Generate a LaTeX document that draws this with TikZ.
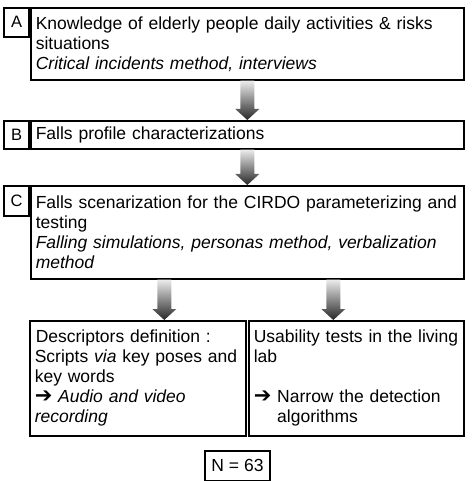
\documentclass[tikz,border=0pt]{standalone}
\usepackage{fontspec}
\setmainfont{Liberation Sans}
\newfontfamily\symfont{DejaVu Sans}
\usetikzlibrary{calc}

\tikzset{
  box/.style={draw, line width=1.6bp, anchor=north west, align=left, inner xsep=5bp, inner ysep=0bp,
    font=\fontsize{17.5bp}{20bp}\selectfont},
  tag/.style={draw, line width=1.6bp, anchor=north east, minimum width=25bp, minimum height=29bp,
    inner sep=0pt, font=\fontsize{16.5bp}{18bp}\selectfont},
}

% shaded block arrow from one point down to another
\newcommand{\flowarrow}[2]{%
  \shade[top color=gray!15, bottom color=black!85]
    let \p1=(#1), \p2=(#2) in
    (\x1-7bp,\y1) -- (\x1+7bp,\y1) -- (\x1+7bp,\y2+11bp) -- (\x1+12bp,\y2+11bp)
    -- (\x1,\y2) -- (\x1-12bp,\y2+11bp) -- (\x1-7bp,\y2+11bp) -- cycle;}
\newcommand{\pointer}{{\symfont\fontsize{21bp}{20bp}\selectfont ➔}}

\begin{document}
\begin{tikzpicture}[x=1bp,y=-1bp]
\useasboundingbox (0,0) rectangle (474,481);

\node[box, text width=423bp, minimum height=72bp] (knowledge) at (30,7)
  {Knowledge of elderly people daily activities \& risks\\situations\\\textit{Critical incidents method, interviews}};
\node[tag, minimum height=29bp] (tagA) at (knowledge.north west) {A};

\node[box, text width=423bp, minimum height=28bp] (profile) at (30,120) {Falls profile characterizations};
\node[tag, minimum height=28bp] (tagB) at (profile.north west) {B};

\node[box, text width=423bp, minimum height=93bp] (scenar) at (30,185)
  {Falls scenarization for the CIRDO parameterizing and\\testing\\\textit{Falling simulations, personas method, verbalization}\\\textit{method}};
\node[tag, minimum height=30bp] (tagC) at (scenar.north west) {C};

\node[box, text width=206bp, minimum height=115bp] (descr) at (29,320)
  {\hspace{1bp}Descriptors definition :\\Scripts \textit{via} key poses and\\key words\\\pointer{} \textit{Audio and video}\\\textit{recording}};
\node[box, text width=205bp, minimum height=115bp] (usab) at (248,320)
  {Usability tests in the living\\lab\\\strut\\\pointer{} Narrow the detection\\\phantom{\pointer{} }algorithms};

\node[box, anchor=north, minimum width=65bp, minimum height=30bp, align=center] (total) at (237.5,450) {N = 63};

% arrows
\coordinate (left) at ($(scenar.south)+(-83,0)$);
\coordinate (right) at ($(scenar.south)+(86,0)$);
\flowarrow{knowledge.south}{knowledge.south |- profile.north}
\flowarrow{profile.south}{profile.south |- scenar.north}
\flowarrow{left}{left |- descr.north}
\flowarrow{right}{right |- usab.north}
\end{tikzpicture}
\end{document}
